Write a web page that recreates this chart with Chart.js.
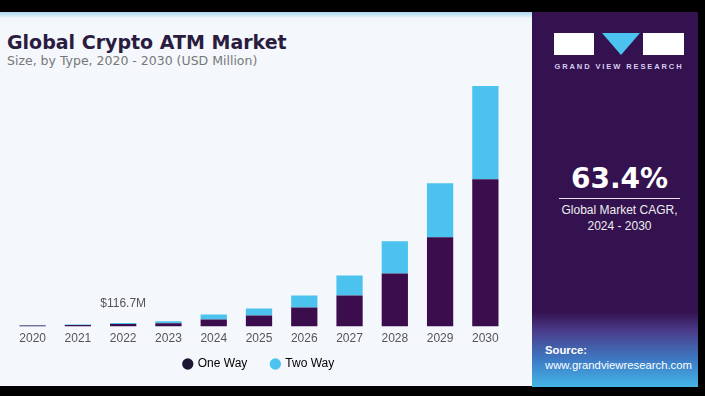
<!DOCTYPE html>
<html>
<head>
<meta charset="utf-8">
<script src="https://cdn.jsdelivr.net/npm/chart.js@4/dist/chart.umd.min.js"></script>
<style>
  html, body { margin: 0; padding: 0; }
  body { width: 705px; height: 396px; background: #000; position: relative; overflow: hidden;
         font-family: "Liberation Sans", Arial, sans-serif; }
  #left { position: absolute; left: 0; top: 12px; width: 532px; height: 374px;
          background: linear-gradient(#a7d8ee 0px, #eef5fb 6px, #f4f7fb 12px); }
  #title { position: absolute; left: 7px; top: 33px; font-family: "DejaVu Sans", sans-serif; font-size: 19px;
           line-height: 19px; font-weight: bold; color: #2a1c40; }
  #sub { position: absolute; left: 7px; top: 55px; font-family: "DejaVu Sans", sans-serif; font-size: 12.5px;
         line-height: 12.5px; color: #777; }
  #panel { position: absolute; left: 532px; top: 12px; width: 166px; height: 375px;
           background: linear-gradient(#34124f 0px, #34124f 300px, #4a3a88 318px, #3d7fc8 350px, #45b6e6 375px); color: #fff; }
  .box { position: absolute; top: 21px; width: 40px; height: 22px; background: #fff; }
  #tri { position: absolute; left: 70px; top: 21px; width: 0; height: 0;
         border-left: 19px solid transparent; border-right: 19px solid transparent; border-top: 22px solid #4cc3ee; }
  #brand { position: absolute; left: 0; width: 174px; top: 50px; text-align: center; font-size: 7.5px;
           font-weight: bold; letter-spacing: 1.9px; color: #d9cdef; }
  #cagr { position: absolute; left: 0; width: 175px; top: 153px; text-align: center; font-family: "DejaVu Sans", sans-serif;
          font-size: 28px; line-height: 28px; font-weight: bold; }
  #rule { position: absolute; left: 27px; width: 121px; top: 186px; height: 1px; background: #e8e0f2; }
  #cagrTxt { position: absolute; left: 0; width: 175px; top: 190px; text-align: center; font-size: 12px; line-height: 16px; color: #eee; }
  #src { position: absolute; left: 13px; top: 331px; font-size: 11.3px; line-height: 15px; }
  #chartWrap { position: absolute; left: 0; top: 78px; width: 530px; height: 319px; }
</style>
</head>
<body>
<div id="left">
</div>
<div id="title">Global Crypto ATM Market</div>
<div id="sub">Size, by Type, 2020 - 2030 (USD Million)</div>
<div id="panel">
  <div class="box" style="left:22px"></div>
  <div id="tri"></div>
  <div class="box" style="left:111px;width:41px"></div>
  <div id="brand">GRAND VIEW RESEARCH</div>
  <div id="cagr">63.4%</div>
  <div id="rule"></div>
  <div id="cagrTxt">Global Market CAGR,<br>2024 - 2030</div>
  <div id="src"><b>Source:</b><br>www.grandviewresearch.com</div>
</div>
<div id="chartWrap"><canvas id="chart" width="530" height="319"></canvas></div>
<script>
// values in USD Million
const years = ['2020', '2021', '2022', '2023', '2024', '2025', '2026', '2027', '2028', '2029', '2030'];
const oneWay = [40, 50, 83.4, 110, 233, 367, 633, 1034, 1767, 2967, 4900];
const twoWay = [10, 17, 33.3, 67, 167, 233, 400, 667, 1067, 1800, 3100];
const calloutYear = '2022';
const calloutText = '$116.7M';

const darkPurple = '#3b0d4d';
const lightBlue = '#4cc3ee';

const callout = {
  id: 'callout',
  afterDatasetsDraw(chart) {
    const i = years.indexOf(calloutYear);
    const x = chart.scales.x.getPixelForValue(i);
    const y = chart.scales.y.getPixelForValue(oneWay[i] + twoWay[i]);
    const ctx = chart.ctx;
    ctx.save();
    ctx.font = '12px "Liberation Sans", Arial, sans-serif';
    ctx.fillStyle = '#555';
    ctx.textAlign = 'center';
    ctx.textBaseline = 'middle';
    ctx.fillText(calloutText, x, y - 19);
    ctx.restore();
  }
};

// pull the legend up a bit, its label padding also sets the gap between items
const legendShift = {
  id: 'legendShift',
  afterLayout(chart) {
    chart.legend.top -= 17;
    chart.legend.bottom -= 17;
  }
};

new Chart(document.getElementById('chart'), {
  type: 'bar',
  data: {
    labels: years,
    datasets: [
      { label: 'One Way', data: oneWay, backgroundColor: darkPurple },
      { label: 'Two Way', data: twoWay, backgroundColor: lightBlue },
    ],
  },
  options: {
    responsive: false,
    animation: false,
    barPercentage: 0.58,
    categoryPercentage: 1,
    layout: { padding: { left: 10, right: 22, top: 5, bottom: 0 } },
    scales: {
      x: {
        stacked: true,
        grid: { display: false, drawTicks: false },
        border: { display: false },
        ticks: { color: '#555', font: { size: 12, family: '"Liberation Sans", Arial, sans-serif' }, padding: 5 },
      },
      y: { stacked: true, display: false, min: 0, max: 8100 },
    },
    plugins: {
      tooltip: { enabled: false },
      legend: {
        position: 'bottom',
        labels: {
          usePointStyle: true,
          pointStyle: 'circle',
          boxWidth: 8,
          boxHeight: 8,
          padding: 24,
          color: '#555',
          font: { size: 12, family: '"Liberation Sans", Arial, sans-serif' },
          generateLabels(chart) {
            return chart.data.datasets.map((ds, i) => ({
              text: ds.label,
              fillStyle: i === 0 ? '#1e1534' : lightBlue,
              strokeStyle: i === 0 ? '#1e1534' : lightBlue,
              lineWidth: 0,
              pointStyle: 'circle',
              datasetIndex: i,
            }));
          },
        },
      },
    },
  },
  plugins: [callout, legendShift],
});
</script>
</body>
</html>
